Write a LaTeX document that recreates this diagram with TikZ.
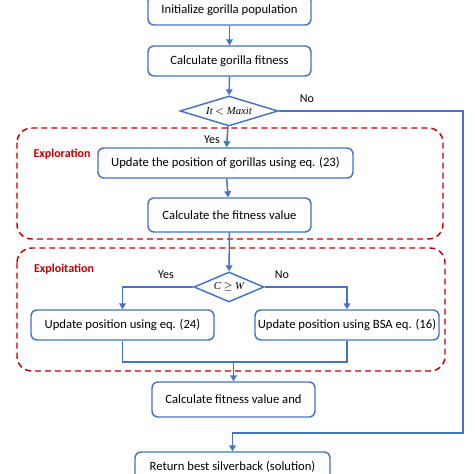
\documentclass[tikz,border=0pt]{standalone}
\usepackage{fontspec}
\setmainfont{Carlito}
\newfontfamily\condfont{Liberation Serif}
\usetikzlibrary{shapes.geometric,arrows.meta}

\tikzset{every picture/.style={line width=0.75pt}}
\definecolor{flowblue}{RGB}{68,114,196}
\definecolor{phasered}{RGB}{192,0,0}
\tikzset{
	procbox/.style={draw=flowblue, line width=1.1pt, rounded corners=4.5pt, fill=white, inner sep=0pt, font=\fontsize{9.5}{11}\selectfont},
	decbox/.style={draw=flowblue, line width=1.1pt, diamond, aspect=3.2, inner sep=0pt, fill=white, font=\fontsize{8}{9}\condfont\itshape},
	flow/.style={draw=flowblue, line width=1.1pt, -{Triangle[length=4.5pt,width=5pt]}},
	joinline/.style={draw=flowblue, line width=1.1pt},
	phase/.style={draw=phasered, line width=1.1pt, dash pattern=on 4.5pt off 3pt, rounded corners=11pt},
	phaselabel/.style={text=phasered, font=\fontsize{9}{11}\selectfont\bfseries},
	branchlabel/.style={font=\fontsize{9}{11}\selectfont},
}

\begin{document}
\begin{tikzpicture}[x=0.75pt,y=0.75pt,yscale=-1,xscale=1]
	\clip (0,0) rectangle (474,474);

	%Shape: Rounded Rect [id:exploration]
	\draw [phase] (17,128) rectangle (443,239);
	%Shape: Rounded Rect [id:exploitation]
	\draw [phase] (17,248) rectangle (445,371);

	% Text Node
	\node [phaselabel] (explorlbl) at (62,154) {Exploration};
	% Text Node
	\node [phaselabel] (exploitlbl) at (64,269) {Exploitation};

	% Process Nodes
	\node [procbox, minimum width=122.25pt, minimum height=22.5pt] (init) at (229.5,10) {Initialize gorilla population};
	\node [procbox, minimum width=122.25pt, minimum height=22.5pt] (fitness) at (229.5,61) {Calculate gorilla fitness};
	\node [decbox, minimum width=73.5pt, minimum height=22.5pt] (itcheck) at (229,111) {It $<$ Maxit};
	\node [procbox, minimum width=191.25pt, minimum height=22.5pt] (explore) at (225.5,163) {Update the position of gorillas using eq. (23)};
	\node [procbox, minimum width=122.25pt, minimum height=25.5pt] (fitvalue) at (229.5,215) {Calculate the fitness value};
	\node [decbox, minimum width=52.5pt, minimum height=22.5pt] (cwcheck) at (229,287) {C $\geq$ W};
	\node [procbox, minimum width=137.25pt, minimum height=22.5pt] (updleft) at (122.5,325) {Update position using eq. (24)};
	\node [procbox, minimum width=138pt, minimum height=22.5pt] (updright) at (347,325) {Update position using BSA eq. (16)};
	\node [procbox, minimum width=122.25pt, minimum height=26.25pt] (calcfit) at (233.5,399.5) {Calculate fitness value and};
	\node [procbox, minimum width=146.25pt, minimum height=22.5pt] (best) at (232.5,467) {Return best silverback (solution)};

	\coordinate (loop) at (463,433);
	\coordinate (join) at (233.5,362);

	%Straight Lines
	\draw [flow] (init) -- (fitness);
	\draw [flow] (fitness) -- (itcheck);
	\draw [flow] (itcheck) -- (explore);
	\draw [flow] (itcheck.east) -| (loop) -| (best.north);
	\draw [flow] (explore) -- (fitvalue);
	\draw [flow] (fitvalue) -- (cwcheck);
	\draw [flow] (cwcheck.west) -| (updleft.north);
	\draw [flow] (cwcheck.east) -| (updright.north);
	\draw [joinline] (updleft.south) |- (join) -| (updright.south);
	\draw [flow] (join) -- (calcfit);

	% Text Node
	\node [branchlabel] (yes1) at (212,140) {Yes};
	% Text Node
	\node [branchlabel] (no1) at (307,99) {No};
	% Text Node
	\node [branchlabel] (yes2) at (166,275) {Yes};
	% Text Node
	\node [branchlabel] (no2) at (282,275) {No};

\end{tikzpicture}
\end{document}
